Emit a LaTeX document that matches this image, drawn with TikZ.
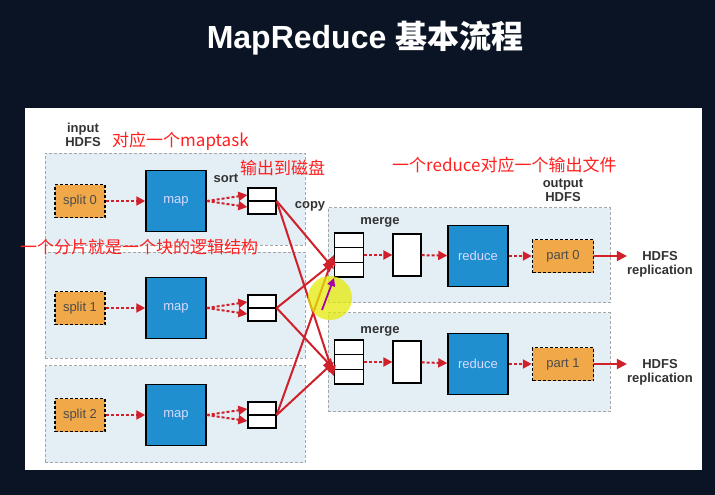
\documentclass[tikz,border=0pt]{standalone}
\usepackage{fontspec}
\setmainfont{Liberation Sans}
\newfontfamily\cjk{Noto Sans CJK SC}
\usetikzlibrary{arrows.meta}
\definecolor{bg}{HTML}{0B1424}
\definecolor{grp}{HTML}{E4EEF5}
\definecolor{org}{HTML}{F0A848}
\definecolor{blu}{HTML}{1F8FD0}
\definecolor{arr}{HTML}{D0202A}
\definecolor{note}{HTML}{FF2020}
\begin{document}
\begin{tikzpicture}[x=1pt,y=-1pt,
 grp/.style={draw=gray!70,densely dashed,fill=grp},
 split/.style={draw=black,densely dashed,line width=1.5pt,fill=org,minimum width=50pt,minimum height=33pt,font=\fontsize{13}{15}\selectfont,text=black!70},
 blue/.style={draw=black,line width=1.5pt,fill=blu,minimum width=60pt,minimum height=61pt,font=\fontsize{13}{15}\selectfont,text=white!85!blue},
 wbox/.style={draw=black,line width=1.3pt,fill=white,minimum width=28pt,minimum height=42pt},
 dotarr/.style={arr,densely dashed,line width=2pt,-{Triangle[length=9pt,width=9pt]}},
 solarr/.style={arr,line width=2pt,-{Triangle[length=10pt,width=10pt]}},
 lbl/.style={font=\bfseries\fontsize{13}{14}\selectfont,text=black!80,align=center,inner sep=0},
 note/.style={font=\cjk\fontsize{17}{19}\selectfont,text=note,inner sep=0,anchor=west}]
\useasboundingbox (0,0) rectangle (715,495);
\fill[bg] (0,0) rectangle (715,495);
\fill[white] (25,108) rectangle (702,470);
\node[font=\bfseries\fontsize{32}{36}\selectfont,text=white] (title) at (365,38) {MapReduce {\cjk 基本流程}};
% groups
\node[grp,minimum width=260pt,minimum height=92pt] (g0) at (175,199) {};
\node[grp,minimum width=260pt,minimum height=106pt] (g1) at (175,305) {};
\node[grp,minimum width=260pt,minimum height=97pt] (g2) at (175,414) {};
\node[grp,minimum width=282pt,minimum height=95pt] (r0) at (469,255) {};
\node[grp,minimum width=282pt,minimum height=99pt] (r1) at (469,362) {};
\node[lbl] (inh) at (83,135) {input\\HDFS};
\node[lbl] (outh) at (563,190) {output\\HDFS};
\node[lbl] (sortl) at (226,178) {sort};
\node[lbl] (copyl) at (310,206) {copy};
\node[lbl] (m0l) at (380,222) {merge};
\node[lbl] (m1l) at (380,331) {merge};
\foreach \i/\y in {0/201,1/308,2/415}{
 \node[split] (s\i) at (80,\y) {split \i};
 \node[blue] (map\i) at (176,\y) {map};
 \node[draw=black,line width=1.3pt,fill=white,minimum width=28pt,minimum height=26pt] (b\i) at (262,\y) {};
 \draw[line width=1.3pt] (b\i.west) -- (b\i.east);
 \draw[dotarr] (s\i) -- (map\i);
 \draw[dotarr] (map\i.east) -- ([yshift=-6pt]b\i.west);
 \draw[dotarr] (map\i.east) -- ([yshift=6pt]b\i.west);
}
\foreach \j/\y/\p in {0/255/256,1/362/364}{
 \node[draw=black,line width=1.3pt,fill=white,minimum width=29pt,minimum height=44pt] (mb\j) at (349,\y) {};
 \draw[line width=1.3pt] ([yshift=-7.3pt]mb\j.west) -- ([yshift=-7.3pt]mb\j.east);
 \draw[line width=1.3pt] ([yshift=7.3pt]mb\j.west) -- ([yshift=7.3pt]mb\j.east);
 \node[wbox] (w\j) at (407,\y) {};
 \node[blue] (red\j) at (478,\p) {reduce};
 \node[split,minimum width=61pt] (part\j) at (563,\p) {part \j};
 \node[lbl] (hr\j) at (660,\p+8) {HDFS\\replication};
 \draw[dotarr] (mb\j) -- (w\j);
 \draw[dotarr] (w\j) -- (red\j);
 \draw[dotarr] (red\j) -- (part\j);
 \draw[solarr] (part\j) -- (hr\j.west|-part\j);
}
\foreach \i in {0,1,2}{
 \draw[solarr] (b\i.east) -- ([yshift={-14pt+7*\i pt}]mb0.west);
 \draw[solarr] (b\i.east) -- ([yshift={-14pt+7*\i pt}]mb1.west);
}
\fill[yellow!90!green,opacity=0.75] (330,298) circle (22);
\coordinate (cur) at (322,310);
\draw[violet!70!magenta,line width=1.8pt,-{Triangle[length=8pt,width=8pt]}] (cur) -- (334,278);
% annotations
\node[note] (n1) at (112,141) {对应一个maptask};
\node[note] (n2) at (240,168) {输出到磁盘};
\node[note] (n3) at (392,165) {一个reduce对应一个输出文件};
\node[note] (n4) at (20,247) {一个分片就是一个块的逻辑结构};
\end{tikzpicture}
\end{document}
